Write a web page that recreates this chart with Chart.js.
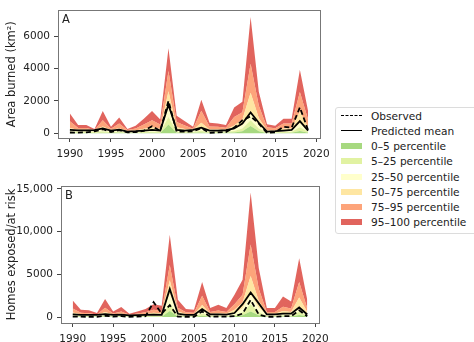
<!DOCTYPE html>
<html>
<head>
<meta charset="utf-8">
<script src="https://cdn.jsdelivr.net/npm/chart.js@4.4.1/dist/chart.umd.min.js"></script>
<style>
  body { margin: 0; background: #fff; width: 474px; height: 342px; overflow: hidden; position: relative; font-family: "DejaVu Sans", sans-serif; }
  canvas { position: absolute; left: 0; }
  #areaChart { top: 0; }
  #homesChart { top: 170px; }
  #legend { position: absolute; left: 335px; top: 107px; width: 150px; height: 125px; border: 1px solid #dcdcdc; border-radius: 3px; background: #fff; }
  .row { position: absolute; left: 0; height: 14px; width: 150px; }
  .row span { position: absolute; left: 35px; top: 0; font-size: 10.6px; line-height: 14px; color: #222; white-space: nowrap; }
  .swatch { position: absolute; left: 5px; top: 4px; width: 21px; height: 6px; }
  .line { position: absolute; left: 5px; top: 6px; width: 21px; height: 0; border-top: 1.8px solid #000; }
  .dash { border-top: 1.8px dashed #000; }
</style>
</head>
<body>
<canvas id="areaChart" width="474" height="170"></canvas>
<canvas id="homesChart" width="474" height="172"></canvas>
<div id="legend"></div>
<script>
const years = [1990, 1991, 1992, 1993, 1994, 1995, 1996, 1997, 1998, 1999,
               2000, 2001, 2002, 2003, 2004, 2005, 2006, 2007, 2008, 2009,
               2010, 2011, 2012, 2013, 2014, 2015, 2016, 2017, 2018, 2019];
const yearTicks = [1990, 1995, 2000, 2005, 2010, 2015, 2020];
const areaTicks = [0, 2000, 4000, 6000];
const homesTicks = [0, 5000, 10000, 15000];

// Area burned (km²), percentile bounds of the predictions
const areaP5   = [30, 25, 25, 25, 40, 20, 30, 15, 20, 25, 30, 25, 550, 30, 25, 30, 50, 25, 25, 30, 50, 120, 450, 120, 15, 20, 25, 30, 150, 30];
const areaP25  = [90, 80, 80, 80, 130, 70, 100, 50, 60, 80, 100, 80, 1000, 100, 80, 90, 160, 80, 80, 90, 150, 300, 800, 300, 50, 60, 80, 100, 380, 90];
const areaP50  = [170, 140, 140, 150, 240, 130, 180, 90, 100, 140, 180, 140, 1550, 170, 140, 160, 280, 140, 140, 150, 260, 480, 1200, 500, 90, 100, 140, 170, 620, 150];
const areaP75  = [330, 220, 220, 200, 420, 200, 320, 140, 180, 280, 380, 280, 2600, 380, 260, 220, 650, 240, 240, 230, 480, 850, 2500, 950, 180, 180, 300, 320, 1350, 380];
const areaP95  = [750, 330, 330, 200, 800, 280, 600, 200, 300, 550, 800, 550, 3850, 700, 480, 280, 1400, 420, 400, 350, 1000, 1300, 4300, 1700, 380, 320, 600, 600, 2550, 850];
const areaP100 = [1230, 520, 520, 270, 1380, 400, 980, 270, 460, 900, 1380, 850, 5260, 1090, 750, 400, 2070, 650, 600, 520, 1600, 1950, 7180, 2570, 560, 460, 900, 900, 3920, 1380];
const areaMean = [210, 180, 180, 200, 300, 170, 230, 110, 130, 170, 210, 170, 1770, 210, 170, 210, 350, 170, 170, 190, 300, 600, 1290, 650, 110, 130, 170, 210, 750, 170];
const areaObserved = [50, 40, 60, 120, 250, 80, 200, 60, 80, 150, 440, 150, 2000, 100, 100, 120, 320, 30, 60, 80, 350, 800, 1050, 600, 30, 60, 400, 350, 1600, 200];

// Homes exposed / at risk
const homesP5   = [50, 35, 30, 25, 60, 30, 40, 20, 30, 35, 50, 45, 700, 60, 40, 35, 140, 40, 45, 40, 80, 200, 650, 220, 40, 40, 70, 60, 250, 60];
const homesP25  = [150, 120, 110, 90, 180, 100, 130, 70, 90, 110, 150, 140, 1600, 190, 120, 110, 400, 130, 150, 130, 250, 550, 1500, 600, 120, 120, 220, 190, 620, 180];
const homesP50  = [280, 220, 200, 170, 330, 190, 240, 130, 170, 210, 280, 250, 2700, 350, 220, 200, 750, 240, 270, 230, 450, 1000, 2600, 1050, 230, 230, 400, 350, 1150, 330];
const homesP75  = [520, 330, 310, 240, 580, 300, 400, 200, 280, 350, 500, 420, 4300, 650, 360, 330, 1400, 380, 450, 380, 850, 1700, 4800, 1900, 380, 380, 700, 600, 2300, 600];
const homesP95  = [1000, 500, 450, 300, 1100, 420, 650, 260, 400, 550, 850, 700, 6100, 1100, 550, 500, 2500, 600, 750, 600, 1500, 2600, 8500, 3300, 600, 600, 1200, 1000, 4100, 1000];
const homesP100 = [1940, 850, 780, 470, 2110, 660, 1170, 390, 660, 940, 1500, 1320, 9640, 2030, 940, 850, 4100, 1050, 1440, 1050, 2610, 4370, 14590, 5740, 1050, 1050, 2410, 1830, 6900, 2000];
const homesMean = [300, 250, 250, 250, 350, 250, 280, 200, 220, 250, 280, 260, 3280, 380, 250, 250, 940, 300, 300, 280, 470, 1500, 2880, 1600, 300, 300, 400, 400, 1120, 300];
const homesObserved = [50, 40, 30, 30, 150, 50, 100, 30, 40, 100, 1750, 400, 1400, 40, 30, 30, 660, 40, 60, 50, 100, 400, 2000, 300, 30, 30, 100, 100, 780, 100];

const bandLabels = ['0–5 percentile', '5–25 percentile', '25–50 percentile', '50–75 percentile', '75–95 percentile', '95–100 percentile'];
const bandColors = ['rgba(145,207,96,0.8)', 'rgba(217,239,139,0.8)', 'rgba(255,255,191,0.8)',
                    'rgba(254,224,139,0.8)', 'rgba(252,141,89,0.8)', 'rgba(215,48,39,0.75)'];

Chart.defaults.font.family = '"DejaVu Sans", sans-serif';
Chart.defaults.color = '#222';

function pts(vals) {
    return vals.map((v, i) => ({x: years[i], y: v}));
}

// frame around the plot area plus the panel letter
const panelFrame = {
    id: 'panelFrame',
    afterDraw(chart, args, opts) {
        const a = chart.chartArea;
        const ctx = chart.ctx;
        ctx.save();
        ctx.strokeStyle = '#777';
        ctx.lineWidth = 1;
        ctx.strokeRect(Math.round(a.left) + 0.5, Math.round(a.top) + 0.5,
            Math.round(a.right - a.left), Math.round(a.bottom - a.top));
        ctx.fillStyle = '#222';
        ctx.font = '11.5px "DejaVu Sans"';
        ctx.textBaseline = 'top';
        ctx.fillText(opts.letter, a.left + 4, a.top + 4);
        ctx.restore();
    }
};

function makeChart(id, bands, mean, observed, cfg) {
    const datasets = bands.map((vals, i) => ({
        data: pts(vals),
        borderWidth: 0,
        borderColor: 'rgba(0,0,0,0)',
        backgroundColor: bandColors[i],
        pointRadius: 0,
        fill: i === 0 ? 'origin' : '-1',
        order: 1
    }));
    datasets.push({
        data: pts(mean),
        borderColor: '#000',
        borderWidth: 1.8,
        pointRadius: 0,
        fill: false,
        order: 0
    });
    datasets.push({
        data: pts(observed),
        borderColor: '#000',
        borderWidth: 1.8,
        borderDash: [5, 3],
        pointRadius: 0,
        fill: false,
        order: 0
    });

    return new Chart(document.getElementById(id), {
        type: 'line',
        data: {datasets: datasets},
        plugins: [panelFrame],
        options: {
            responsive: false,
            animation: false,
            devicePixelRatio: 1,
            layout: {padding: {top: cfg.padTop, right: cfg.padRight, left: 0, bottom: 0}},
            plugins: {
                legend: {display: false},
                tooltip: {enabled: false},
                panelFrame: {letter: cfg.letter}
            },
            scales: {
                x: {
                    type: 'linear',
                    min: 1988.55,
                    max: 2020.45,
                    afterFit(scale) { scale.height = cfg.xHeight; },
                    afterBuildTicks(scale) { scale.ticks = yearTicks.map(v => ({value: v})); },
                    grid: {drawOnChartArea: false, drawTicks: true, tickLength: 4, color: '#444'},
                    border: {display: false},
                    ticks: {
                        padding: 6,
                        maxRotation: 0,
                        autoSkip: false,
                        font: {size: 10.5},
                        callback: v => String(v)
                    }
                },
                y: {
                    min: cfg.yMin,
                    max: cfg.yMax,
                    afterFit(scale) { scale.width = cfg.yWidth; },
                    afterBuildTicks(scale) { scale.ticks = cfg.yTicks.map(v => ({value: v})); },
                    grid: {drawOnChartArea: false, drawTicks: true, tickLength: 4, color: '#444'},
                    border: {display: false},
                    ticks: {
                        padding: 4,
                        autoSkip: false,
                        font: {size: 10.5},
                        callback: v => v >= 10000 ? v.toLocaleString('en-US') : String(v)
                    },
                    title: {
                        display: true,
                        text: cfg.yTitle,
                        font: {size: 11.5},
                        padding: {top: 5, bottom: 0}
                    }
                }
            }
        }
    });
}

makeChart('areaChart',
    [areaP5, areaP25, areaP50, areaP75, areaP95, areaP100], areaMean, areaObserved,
    {letter: 'A', padTop: 1, padRight: 154, xHeight: 32, yWidth: 58,
     yMin: -290, yMax: 7600, yTicks: areaTicks, yTitle: 'Area burned (km²)'});

makeChart('homesChart',
    [homesP5, homesP25, homesP50, homesP75, homesP95, homesP100], homesMean, homesObserved,
    {letter: 'B', padTop: 16, padRight: 155, xHeight: 19, yWidth: 61,
     yMin: -700, yMax: 15350, yTicks: homesTicks, yTitle: 'Homes exposed/at risk'});

// legend shared by both panels
const legend = document.getElementById('legend');
const rows = [{label: 'Observed', kind: 'dash'}, {label: 'Predicted mean', kind: 'line'}]
    .concat(bandLabels.map((l, i) => ({label: l, kind: 'swatch', color: bandColors[i]})));
rows.forEach((r, i) => {
    const row = document.createElement('div');
    row.className = 'row';
    row.style.top = (1 + i * 15.15) + 'px';
    const mark = document.createElement('div');
    if (r.kind === 'swatch') {
        mark.className = 'swatch';
        mark.style.background = r.color;
    } else {
        mark.className = r.kind === 'dash' ? 'line dash' : 'line';
    }
    const text = document.createElement('span');
    text.textContent = r.label;
    row.appendChild(mark);
    row.appendChild(text);
    legend.appendChild(row);
});
</script>
</body>
</html>
